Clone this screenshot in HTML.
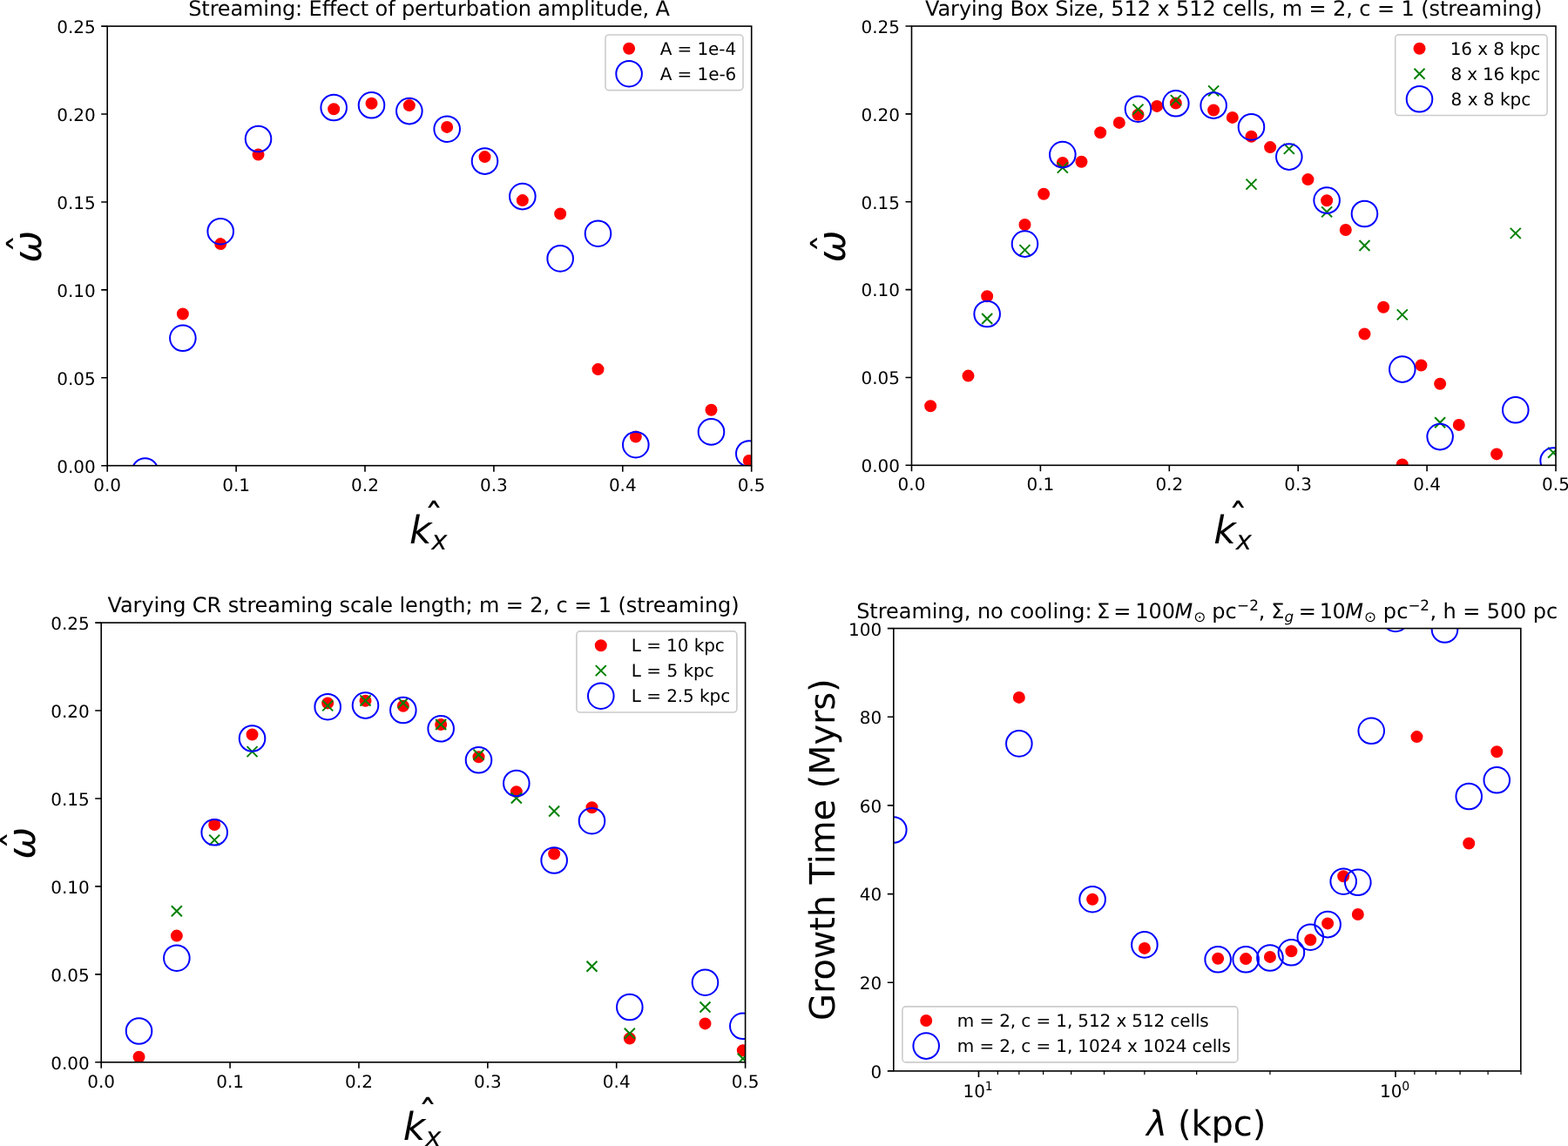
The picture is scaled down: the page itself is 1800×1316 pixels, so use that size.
<!DOCTYPE html>
<html><head><meta charset="utf-8"><title>Streaming instability growth rates</title>
<style>
html,body{margin:0;padding:0;background:#fff;}
svg{display:block;}
text{font-family:'DejaVu Sans', 'Liberation Sans', sans-serif;fill:#000;text-rendering:geometricPrecision;}
</style></head>
<body>
<svg width="1800" height="1316" viewBox="0 0 1800 1316">
<rect width="1800" height="1316" fill="#fff"/>
<defs>
<clipPath id="cTL"><rect x="123.2" y="30.1" width="739.5" height="504.6"/></clipPath>
<clipPath id="cTR"><rect x="1046.5" y="30" width="739.5" height="504.3"/></clipPath>
<clipPath id="cBL"><rect x="116.2" y="715.1" width="739.4" height="504.7"/></clipPath>
<clipPath id="cBR"><rect x="1025.8" y="721.6" width="720" height="508.3"/></clipPath>
</defs>
<g clip-path="url(#cTL)">
<circle cx="209.86" cy="360.5" r="6.0" fill="#ff0000" stroke="#ff0000" stroke-width="2"/>
<circle cx="253.19" cy="280.1" r="6.0" fill="#ff0000" stroke="#ff0000" stroke-width="2"/>
<circle cx="296.52" cy="177.6" r="6.0" fill="#ff0000" stroke="#ff0000" stroke-width="2"/>
<circle cx="383.18" cy="125.2" r="6.0" fill="#ff0000" stroke="#ff0000" stroke-width="2"/>
<circle cx="426.51" cy="118.8" r="6.0" fill="#ff0000" stroke="#ff0000" stroke-width="2"/>
<circle cx="469.84" cy="121.1" r="6.0" fill="#ff0000" stroke="#ff0000" stroke-width="2"/>
<circle cx="513.17" cy="145.9" r="6.0" fill="#ff0000" stroke="#ff0000" stroke-width="2"/>
<circle cx="556.5" cy="180.1" r="6.0" fill="#ff0000" stroke="#ff0000" stroke-width="2"/>
<circle cx="599.83" cy="230.1" r="6.0" fill="#ff0000" stroke="#ff0000" stroke-width="2"/>
<circle cx="643.16" cy="245.5" r="6.0" fill="#ff0000" stroke="#ff0000" stroke-width="2"/>
<circle cx="686.49" cy="424.1" r="6.0" fill="#ff0000" stroke="#ff0000" stroke-width="2"/>
<circle cx="729.82" cy="501.6" r="6.0" fill="#ff0000" stroke="#ff0000" stroke-width="2"/>
<circle cx="816.48" cy="470.8" r="6.0" fill="#ff0000" stroke="#ff0000" stroke-width="2"/>
<circle cx="859.81" cy="529" r="6.0" fill="#ff0000" stroke="#ff0000" stroke-width="2"/>
<circle cx="166.53" cy="541" r="14.8" fill="none" stroke="#0000ff" stroke-width="2"/>
<circle cx="209.86" cy="388.3" r="14.8" fill="none" stroke="#0000ff" stroke-width="2"/>
<circle cx="253.19" cy="265.7" r="14.8" fill="none" stroke="#0000ff" stroke-width="2"/>
<circle cx="296.52" cy="159.5" r="14.8" fill="none" stroke="#0000ff" stroke-width="2"/>
<circle cx="383.18" cy="123.5" r="14.8" fill="none" stroke="#0000ff" stroke-width="2"/>
<circle cx="426.51" cy="120.8" r="14.8" fill="none" stroke="#0000ff" stroke-width="2"/>
<circle cx="469.84" cy="127.6" r="14.8" fill="none" stroke="#0000ff" stroke-width="2"/>
<circle cx="513.17" cy="148.2" r="14.8" fill="none" stroke="#0000ff" stroke-width="2"/>
<circle cx="556.5" cy="185.1" r="14.8" fill="none" stroke="#0000ff" stroke-width="2"/>
<circle cx="599.83" cy="225.6" r="14.8" fill="none" stroke="#0000ff" stroke-width="2"/>
<circle cx="643.16" cy="296.9" r="14.8" fill="none" stroke="#0000ff" stroke-width="2"/>
<circle cx="686.49" cy="268.2" r="14.8" fill="none" stroke="#0000ff" stroke-width="2"/>
<circle cx="729.82" cy="510.7" r="14.8" fill="none" stroke="#0000ff" stroke-width="2"/>
<circle cx="816.48" cy="495.9" r="14.8" fill="none" stroke="#0000ff" stroke-width="2"/>
<circle cx="859.81" cy="521" r="14.8" fill="none" stroke="#0000ff" stroke-width="2"/>
</g>
<g clip-path="url(#cTR)">
<circle cx="1068.16" cy="466.3" r="6.0" fill="#ff0000" stroke="#ff0000" stroke-width="2"/>
<circle cx="1111.49" cy="431.6" r="6.0" fill="#ff0000" stroke="#ff0000" stroke-width="2"/>
<circle cx="1133.16" cy="340.2" r="6.0" fill="#ff0000" stroke="#ff0000" stroke-width="2"/>
<circle cx="1176.49" cy="258" r="6.0" fill="#ff0000" stroke="#ff0000" stroke-width="2"/>
<circle cx="1198.15" cy="222.7" r="6.0" fill="#ff0000" stroke="#ff0000" stroke-width="2"/>
<circle cx="1219.82" cy="186.9" r="6.0" fill="#ff0000" stroke="#ff0000" stroke-width="2"/>
<circle cx="1241.48" cy="185.8" r="6.0" fill="#ff0000" stroke="#ff0000" stroke-width="2"/>
<circle cx="1263.15" cy="152.3" r="6.0" fill="#ff0000" stroke="#ff0000" stroke-width="2"/>
<circle cx="1284.82" cy="140.9" r="6.0" fill="#ff0000" stroke="#ff0000" stroke-width="2"/>
<circle cx="1306.48" cy="131.7" r="6.0" fill="#ff0000" stroke="#ff0000" stroke-width="2"/>
<circle cx="1328.14" cy="121.9" r="6.0" fill="#ff0000" stroke="#ff0000" stroke-width="2"/>
<circle cx="1349.81" cy="118.5" r="6.0" fill="#ff0000" stroke="#ff0000" stroke-width="2"/>
<circle cx="1393.14" cy="126.5" r="6.0" fill="#ff0000" stroke="#ff0000" stroke-width="2"/>
<circle cx="1414.81" cy="134.9" r="6.0" fill="#ff0000" stroke="#ff0000" stroke-width="2"/>
<circle cx="1436.47" cy="156.8" r="6.0" fill="#ff0000" stroke="#ff0000" stroke-width="2"/>
<circle cx="1458.13" cy="169.1" r="6.0" fill="#ff0000" stroke="#ff0000" stroke-width="2"/>
<circle cx="1501.46" cy="206.1" r="6.0" fill="#ff0000" stroke="#ff0000" stroke-width="2"/>
<circle cx="1523.13" cy="230.2" r="6.0" fill="#ff0000" stroke="#ff0000" stroke-width="2"/>
<circle cx="1544.8" cy="264" r="6.0" fill="#ff0000" stroke="#ff0000" stroke-width="2"/>
<circle cx="1566.46" cy="383.5" r="6.0" fill="#ff0000" stroke="#ff0000" stroke-width="2"/>
<circle cx="1588.12" cy="352.8" r="6.0" fill="#ff0000" stroke="#ff0000" stroke-width="2"/>
<circle cx="1609.79" cy="533.5" r="6.0" fill="#ff0000" stroke="#ff0000" stroke-width="2"/>
<circle cx="1631.45" cy="419.5" r="6.0" fill="#ff0000" stroke="#ff0000" stroke-width="2"/>
<circle cx="1653.12" cy="440.7" r="6.0" fill="#ff0000" stroke="#ff0000" stroke-width="2"/>
<circle cx="1674.78" cy="487.9" r="6.0" fill="#ff0000" stroke="#ff0000" stroke-width="2"/>
<circle cx="1718.12" cy="521.4" r="6.0" fill="#ff0000" stroke="#ff0000" stroke-width="2"/>
<path d="M1127.16 360L1139.16 372M1127.16 372L1139.16 360" stroke="#008000" stroke-width="2" fill="none"/>
<path d="M1170.49 281.1L1182.49 293.1M1170.49 293.1L1182.49 281.1" stroke="#008000" stroke-width="2" fill="none"/>
<path d="M1213.82 186.6L1225.82 198.6M1213.82 198.6L1225.82 186.6" stroke="#008000" stroke-width="2" fill="none"/>
<path d="M1300.48 119.6L1312.48 131.6M1300.48 131.6L1312.48 119.6" stroke="#008000" stroke-width="2" fill="none"/>
<path d="M1343.81 109.1L1355.81 121.1M1343.81 121.1L1355.81 109.1" stroke="#008000" stroke-width="2" fill="none"/>
<path d="M1387.14 98.4L1399.14 110.4M1387.14 110.4L1399.14 98.4" stroke="#008000" stroke-width="2" fill="none"/>
<path d="M1430.47 205.6L1442.47 217.6M1430.47 217.6L1442.47 205.6" stroke="#008000" stroke-width="2" fill="none"/>
<path d="M1473.8 164.9L1485.8 176.9M1473.8 176.9L1485.8 164.9" stroke="#008000" stroke-width="2" fill="none"/>
<path d="M1517.13 237.4L1529.13 249.4M1517.13 249.4L1529.13 237.4" stroke="#008000" stroke-width="2" fill="none"/>
<path d="M1560.46 276L1572.46 288M1560.46 288L1572.46 276" stroke="#008000" stroke-width="2" fill="none"/>
<path d="M1603.79 355.4L1615.79 367.4M1603.79 367.4L1615.79 355.4" stroke="#008000" stroke-width="2" fill="none"/>
<path d="M1647.12 479.2L1659.12 491.2M1647.12 491.2L1659.12 479.2" stroke="#008000" stroke-width="2" fill="none"/>
<path d="M1733.78 261.9L1745.78 273.9M1733.78 273.9L1745.78 261.9" stroke="#008000" stroke-width="2" fill="none"/>
<path d="M1777.11 513.8L1789.11 525.8M1777.11 525.8L1789.11 513.8" stroke="#008000" stroke-width="2" fill="none"/>
<circle cx="1133.16" cy="360.5" r="14.8" fill="none" stroke="#0000ff" stroke-width="2"/>
<circle cx="1176.49" cy="280.1" r="14.8" fill="none" stroke="#0000ff" stroke-width="2"/>
<circle cx="1219.82" cy="177.6" r="14.8" fill="none" stroke="#0000ff" stroke-width="2"/>
<circle cx="1306.48" cy="125.2" r="14.8" fill="none" stroke="#0000ff" stroke-width="2"/>
<circle cx="1349.81" cy="118.8" r="14.8" fill="none" stroke="#0000ff" stroke-width="2"/>
<circle cx="1393.14" cy="121.1" r="14.8" fill="none" stroke="#0000ff" stroke-width="2"/>
<circle cx="1436.47" cy="145.9" r="14.8" fill="none" stroke="#0000ff" stroke-width="2"/>
<circle cx="1479.8" cy="180.1" r="14.8" fill="none" stroke="#0000ff" stroke-width="2"/>
<circle cx="1523.13" cy="230.1" r="14.8" fill="none" stroke="#0000ff" stroke-width="2"/>
<circle cx="1566.46" cy="245.5" r="14.8" fill="none" stroke="#0000ff" stroke-width="2"/>
<circle cx="1609.79" cy="424.1" r="14.8" fill="none" stroke="#0000ff" stroke-width="2"/>
<circle cx="1653.12" cy="501.6" r="14.8" fill="none" stroke="#0000ff" stroke-width="2"/>
<circle cx="1739.78" cy="470.8" r="14.8" fill="none" stroke="#0000ff" stroke-width="2"/>
<circle cx="1783.11" cy="529" r="14.8" fill="none" stroke="#0000ff" stroke-width="2"/>
</g>
<g clip-path="url(#cBL)">
<circle cx="159.53" cy="1213.7" r="6.0" fill="#ff0000" stroke="#ff0000" stroke-width="2"/>
<circle cx="202.86" cy="1074.6" r="6.0" fill="#ff0000" stroke="#ff0000" stroke-width="2"/>
<circle cx="246.19" cy="947" r="6.0" fill="#ff0000" stroke="#ff0000" stroke-width="2"/>
<circle cx="289.52" cy="843.5" r="6.0" fill="#ff0000" stroke="#ff0000" stroke-width="2"/>
<circle cx="376.18" cy="807.4" r="6.0" fill="#ff0000" stroke="#ff0000" stroke-width="2"/>
<circle cx="419.51" cy="804.8" r="6.0" fill="#ff0000" stroke="#ff0000" stroke-width="2"/>
<circle cx="462.84" cy="810.7" r="6.0" fill="#ff0000" stroke="#ff0000" stroke-width="2"/>
<circle cx="506.17" cy="832" r="6.0" fill="#ff0000" stroke="#ff0000" stroke-width="2"/>
<circle cx="549.5" cy="869.3" r="6.0" fill="#ff0000" stroke="#ff0000" stroke-width="2"/>
<circle cx="592.83" cy="909.3" r="6.0" fill="#ff0000" stroke="#ff0000" stroke-width="2"/>
<circle cx="636.16" cy="980.5" r="6.0" fill="#ff0000" stroke="#ff0000" stroke-width="2"/>
<circle cx="679.49" cy="927.2" r="6.0" fill="#ff0000" stroke="#ff0000" stroke-width="2"/>
<circle cx="722.82" cy="1192.5" r="6.0" fill="#ff0000" stroke="#ff0000" stroke-width="2"/>
<circle cx="809.48" cy="1175.4" r="6.0" fill="#ff0000" stroke="#ff0000" stroke-width="2"/>
<circle cx="852.81" cy="1206.2" r="6.0" fill="#ff0000" stroke="#ff0000" stroke-width="2"/>
<path d="M196.86 1040.2L208.86 1052.2M196.86 1052.2L208.86 1040.2" stroke="#008000" stroke-width="2" fill="none"/>
<path d="M240.19 958.6L252.19 970.6M240.19 970.6L252.19 958.6" stroke="#008000" stroke-width="2" fill="none"/>
<path d="M283.52 857.1L295.52 869.1M283.52 869.1L295.52 857.1" stroke="#008000" stroke-width="2" fill="none"/>
<path d="M370.18 804.4L382.18 816.4M370.18 816.4L382.18 804.4" stroke="#008000" stroke-width="2" fill="none"/>
<path d="M413.51 798.5L425.51 810.5M413.51 810.5L425.51 798.5" stroke="#008000" stroke-width="2" fill="none"/>
<path d="M456.84 801.2L468.84 813.2M456.84 813.2L468.84 801.2" stroke="#008000" stroke-width="2" fill="none"/>
<path d="M500.17 826L512.17 838M500.17 838L512.17 826" stroke="#008000" stroke-width="2" fill="none"/>
<path d="M543.5 860.7L555.5 872.7M543.5 872.7L555.5 860.7" stroke="#008000" stroke-width="2" fill="none"/>
<path d="M586.83 910.5L598.83 922.5M586.83 922.5L598.83 910.5" stroke="#008000" stroke-width="2" fill="none"/>
<path d="M630.16 925.5L642.16 937.5M630.16 937.5L642.16 925.5" stroke="#008000" stroke-width="2" fill="none"/>
<path d="M673.49 1103.7L685.49 1115.7M673.49 1115.7L685.49 1103.7" stroke="#008000" stroke-width="2" fill="none"/>
<path d="M716.82 1180.8L728.82 1192.8M716.82 1192.8L728.82 1180.8" stroke="#008000" stroke-width="2" fill="none"/>
<path d="M803.48 1150.5L815.48 1162.5M803.48 1162.5L815.48 1150.5" stroke="#008000" stroke-width="2" fill="none"/>
<path d="M846.81 1209.7L858.81 1221.7M846.81 1221.7L858.81 1209.7" stroke="#008000" stroke-width="2" fill="none"/>
<circle cx="159.53" cy="1184" r="14.8" fill="none" stroke="#0000ff" stroke-width="2"/>
<circle cx="202.86" cy="1100.2" r="14.8" fill="none" stroke="#0000ff" stroke-width="2"/>
<circle cx="246.19" cy="955.8" r="14.8" fill="none" stroke="#0000ff" stroke-width="2"/>
<circle cx="289.52" cy="848" r="14.8" fill="none" stroke="#0000ff" stroke-width="2"/>
<circle cx="376.18" cy="811.7" r="14.8" fill="none" stroke="#0000ff" stroke-width="2"/>
<circle cx="419.51" cy="810.1" r="14.8" fill="none" stroke="#0000ff" stroke-width="2"/>
<circle cx="462.84" cy="815.5" r="14.8" fill="none" stroke="#0000ff" stroke-width="2"/>
<circle cx="506.17" cy="836.8" r="14.8" fill="none" stroke="#0000ff" stroke-width="2"/>
<circle cx="549.5" cy="872.8" r="14.8" fill="none" stroke="#0000ff" stroke-width="2"/>
<circle cx="592.83" cy="899.5" r="14.8" fill="none" stroke="#0000ff" stroke-width="2"/>
<circle cx="636.16" cy="988" r="14.8" fill="none" stroke="#0000ff" stroke-width="2"/>
<circle cx="679.49" cy="942.7" r="14.8" fill="none" stroke="#0000ff" stroke-width="2"/>
<circle cx="722.82" cy="1156.5" r="14.8" fill="none" stroke="#0000ff" stroke-width="2"/>
<circle cx="809.48" cy="1128.2" r="14.8" fill="none" stroke="#0000ff" stroke-width="2"/>
<circle cx="852.81" cy="1178.3" r="14.8" fill="none" stroke="#0000ff" stroke-width="2"/>
</g>
<g clip-path="url(#cBR)">
<circle cx="1169.84" cy="800.9" r="6.0" fill="#ff0000" stroke="#ff0000" stroke-width="2"/>
<circle cx="1254.1" cy="1032.7" r="6.0" fill="#ff0000" stroke="#ff0000" stroke-width="2"/>
<circle cx="1313.89" cy="1088.9" r="6.0" fill="#ff0000" stroke="#ff0000" stroke-width="2"/>
<circle cx="1398.15" cy="1100.7" r="6.0" fill="#ff0000" stroke="#ff0000" stroke-width="2"/>
<circle cx="1430.18" cy="1101.1" r="6.0" fill="#ff0000" stroke="#ff0000" stroke-width="2"/>
<circle cx="1457.93" cy="1098.9" r="6.0" fill="#ff0000" stroke="#ff0000" stroke-width="2"/>
<circle cx="1482.41" cy="1092.2" r="6.0" fill="#ff0000" stroke="#ff0000" stroke-width="2"/>
<circle cx="1504.3" cy="1079.3" r="6.0" fill="#ff0000" stroke="#ff0000" stroke-width="2"/>
<circle cx="1524.11" cy="1060.4" r="6.0" fill="#ff0000" stroke="#ff0000" stroke-width="2"/>
<circle cx="1542.19" cy="1006.2" r="6.0" fill="#ff0000" stroke="#ff0000" stroke-width="2"/>
<circle cx="1558.82" cy="1050" r="6.0" fill="#ff0000" stroke="#ff0000" stroke-width="2"/>
<circle cx="1626.45" cy="846.1" r="6.0" fill="#ff0000" stroke="#ff0000" stroke-width="2"/>
<circle cx="1686.23" cy="968.5" r="6.0" fill="#ff0000" stroke="#ff0000" stroke-width="2"/>
<circle cx="1718.27" cy="863.2" r="6.0" fill="#ff0000" stroke="#ff0000" stroke-width="2"/>
<circle cx="1025.8" cy="953" r="14.8" fill="none" stroke="#0000ff" stroke-width="2"/>
<circle cx="1169.84" cy="853.9" r="14.8" fill="none" stroke="#0000ff" stroke-width="2"/>
<circle cx="1254.1" cy="1032.7" r="14.8" fill="none" stroke="#0000ff" stroke-width="2"/>
<circle cx="1313.89" cy="1084.9" r="14.8" fill="none" stroke="#0000ff" stroke-width="2"/>
<circle cx="1398.15" cy="1101.8" r="14.8" fill="none" stroke="#0000ff" stroke-width="2"/>
<circle cx="1430.18" cy="1101.8" r="14.8" fill="none" stroke="#0000ff" stroke-width="2"/>
<circle cx="1457.93" cy="1100" r="14.8" fill="none" stroke="#0000ff" stroke-width="2"/>
<circle cx="1482.41" cy="1093.8" r="14.8" fill="none" stroke="#0000ff" stroke-width="2"/>
<circle cx="1504.3" cy="1076.2" r="14.8" fill="none" stroke="#0000ff" stroke-width="2"/>
<circle cx="1524.11" cy="1061.6" r="14.8" fill="none" stroke="#0000ff" stroke-width="2"/>
<circle cx="1542.19" cy="1012.2" r="14.8" fill="none" stroke="#0000ff" stroke-width="2"/>
<circle cx="1558.82" cy="1013.3" r="14.8" fill="none" stroke="#0000ff" stroke-width="2"/>
<circle cx="1574.22" cy="839.3" r="14.8" fill="none" stroke="#0000ff" stroke-width="2"/>
<circle cx="1601.97" cy="710.4" r="14.8" fill="none" stroke="#0000ff" stroke-width="2"/>
<circle cx="1658.48" cy="723" r="14.8" fill="none" stroke="#0000ff" stroke-width="2"/>
<circle cx="1686.23" cy="914.5" r="14.8" fill="none" stroke="#0000ff" stroke-width="2"/>
<circle cx="1718.27" cy="895.8" r="14.8" fill="none" stroke="#0000ff" stroke-width="2"/>
</g>
<rect x="123.2" y="30.1" width="739.5" height="504.6" fill="none" stroke="#000" stroke-width="1.6"/>
<rect x="1046.5" y="30" width="739.5" height="504.3" fill="none" stroke="#000" stroke-width="1.6"/>
<rect x="116.2" y="715.1" width="739.4" height="504.7" fill="none" stroke="#000" stroke-width="1.6"/>
<rect x="1025.8" y="721.6" width="720" height="508.3" fill="none" stroke="#000" stroke-width="1.6"/>
<path d="M123.2 534.7v7M123.2 534.7h-7M271.1 534.7v7M123.2 433.78h-7M419 534.7v7M123.2 332.86h-7M566.9 534.7v7M123.2 231.94h-7M714.8 534.7v7M123.2 131.02h-7M862.7 534.7v7M123.2 30.1h-7" stroke="#000" stroke-width="1.6"/>
<text x="123.2" y="563.8" font-size="20" text-anchor="middle">0.0</text>
<text x="109.7" y="542.6" font-size="20" text-anchor="end">0.00</text>
<text x="271.1" y="563.8" font-size="20" text-anchor="middle">0.1</text>
<text x="109.7" y="441.68" font-size="20" text-anchor="end">0.05</text>
<text x="419" y="563.8" font-size="20" text-anchor="middle">0.2</text>
<text x="109.7" y="340.76" font-size="20" text-anchor="end">0.10</text>
<text x="566.9" y="563.8" font-size="20" text-anchor="middle">0.3</text>
<text x="109.7" y="239.84" font-size="20" text-anchor="end">0.15</text>
<text x="714.8" y="563.8" font-size="20" text-anchor="middle">0.4</text>
<text x="109.7" y="138.92" font-size="20" text-anchor="end">0.20</text>
<text x="862.7" y="563.8" font-size="20" text-anchor="middle">0.5</text>
<text x="109.7" y="38" font-size="20" text-anchor="end">0.25</text>
<path d="M1046.5 534.3v7M1046.5 534.3h-7M1194.4 534.3v7M1046.5 433.44h-7M1342.3 534.3v7M1046.5 332.58h-7M1490.2 534.3v7M1046.5 231.72h-7M1638.1 534.3v7M1046.5 130.86h-7M1786 534.3v7M1046.5 30h-7" stroke="#000" stroke-width="1.6"/>
<text x="1046.5" y="563.4" font-size="20" text-anchor="middle">0.0</text>
<text x="1033" y="542.2" font-size="20" text-anchor="end">0.00</text>
<text x="1194.4" y="563.4" font-size="20" text-anchor="middle">0.1</text>
<text x="1033" y="441.34" font-size="20" text-anchor="end">0.05</text>
<text x="1342.3" y="563.4" font-size="20" text-anchor="middle">0.2</text>
<text x="1033" y="340.48" font-size="20" text-anchor="end">0.10</text>
<text x="1490.2" y="563.4" font-size="20" text-anchor="middle">0.3</text>
<text x="1033" y="239.62" font-size="20" text-anchor="end">0.15</text>
<text x="1638.1" y="563.4" font-size="20" text-anchor="middle">0.4</text>
<text x="1033" y="138.76" font-size="20" text-anchor="end">0.20</text>
<text x="1786" y="563.4" font-size="20" text-anchor="middle">0.5</text>
<text x="1033" y="37.9" font-size="20" text-anchor="end">0.25</text>
<path d="M116.2 1219.8v7M116.2 1219.8h-7M264.08 1219.8v7M116.2 1118.86h-7M411.96 1219.8v7M116.2 1017.92h-7M559.84 1219.8v7M116.2 916.98h-7M707.72 1219.8v7M116.2 816.04h-7M855.6 1219.8v7M116.2 715.1h-7" stroke="#000" stroke-width="1.6"/>
<text x="116.2" y="1248.9" font-size="20" text-anchor="middle">0.0</text>
<text x="102.7" y="1227.7" font-size="20" text-anchor="end">0.00</text>
<text x="264.08" y="1248.9" font-size="20" text-anchor="middle">0.1</text>
<text x="102.7" y="1126.76" font-size="20" text-anchor="end">0.05</text>
<text x="411.96" y="1248.9" font-size="20" text-anchor="middle">0.2</text>
<text x="102.7" y="1025.82" font-size="20" text-anchor="end">0.10</text>
<text x="559.84" y="1248.9" font-size="20" text-anchor="middle">0.3</text>
<text x="102.7" y="924.88" font-size="20" text-anchor="end">0.15</text>
<text x="707.72" y="1248.9" font-size="20" text-anchor="middle">0.4</text>
<text x="102.7" y="823.94" font-size="20" text-anchor="end">0.20</text>
<text x="855.6" y="1248.9" font-size="20" text-anchor="middle">0.5</text>
<text x="102.7" y="723" font-size="20" text-anchor="end">0.25</text>
<path d="M1123.47 1229.9v7M1601.97 1229.9v7M1025.8 1229.9h-7M1025.8 1128.24h-7M1025.8 1026.58h-7M1025.8 924.92h-7M1025.8 823.26h-7M1025.8 721.6h-7" stroke="#000" stroke-width="1.6"/>
<path d="M1145.37 1229.9v4M1169.84 1229.9v4M1197.59 1229.9v4M1229.63 1229.9v4M1267.51 1229.9v4M1313.89 1229.9v4M1373.67 1229.9v4M1457.93 1229.9v4M1623.87 1229.9v4M1648.34 1229.9v4M1676.09 1229.9v4M1708.13 1229.9v4M1746.01 1229.9v4" stroke="#000" stroke-width="1.2"/>
<text x="1012.3" y="1237.8" font-size="20" text-anchor="end">0</text>
<text x="1012.3" y="1136.14" font-size="20" text-anchor="end">20</text>
<text x="1012.3" y="1034.48" font-size="20" text-anchor="end">40</text>
<text x="1012.3" y="932.82" font-size="20" text-anchor="end">60</text>
<text x="1012.3" y="831.16" font-size="20" text-anchor="end">80</text>
<text x="1012.3" y="729.5" font-size="20" text-anchor="end">100</text>
<text x="1105.62" y="1259.8" font-size="20">10</text>
<text x="1130.63" y="1251.9" font-size="14">1</text>
<text x="1584.12" y="1259.8" font-size="20">10</text>
<text x="1609.13" y="1251.9" font-size="14">0</text>
<text x="216.24" y="17.9" font-size="24" textLength="552.79" lengthAdjust="spacing">Streaming: Effect of perturbation amplitude, A</text>
<text x="1062.02" y="18" font-size="24" textLength="708.35" lengthAdjust="spacing">Varying Box Size, 512 x 512 cells, m = 2, c = 1 (streaming)</text>
<text x="123.52" y="703.3" font-size="24" textLength="725.01" lengthAdjust="spacing">Varying CR streaming scale length; m = 2, c = 1 (streaming)</text>
<text x="983.14" y="710" font-size="24" textLength="270.35" lengthAdjust="spacing">Streaming, no cooling:</text>
<text x="1258.96" y="710" font-size="24">Σ</text>
<text x="1278.28" y="710" font-size="24">=</text>
<text x="1303.16" y="710" font-size="24" textLength="45.93" lengthAdjust="spacing">100</text>
<text x="1348.54" y="710" font-size="24" font-style="oblique">M</text>
<text x="1370.15" y="713.6" font-size="16.8">⊙</text>
<text x="1391.14" y="710" font-size="24" textLength="28.65" lengthAdjust="spacing">pc</text>
<text x="1419.94" y="700.5" font-size="16.8" textLength="25.07" lengthAdjust="spacing">−2</text>
<text x="1444.84" y="710" font-size="24">,</text>
<text x="1459.36" y="710" font-size="24">Σ</text>
<text x="1474.45" y="713.6" font-size="16.8" font-style="oblique">g</text>
<text x="1490.78" y="710" font-size="24">=</text>
<text x="1514.86" y="710" font-size="24" textLength="30" lengthAdjust="spacing">10</text>
<text x="1544.34" y="710" font-size="24" font-style="oblique">M</text>
<text x="1565.95" y="713.6" font-size="16.8">⊙</text>
<text x="1587.84" y="710" font-size="24" textLength="28.65" lengthAdjust="spacing">pc</text>
<text x="1616.54" y="700.5" font-size="16.8" textLength="24.37" lengthAdjust="spacing">−2</text>
<text x="1641.44" y="710" font-size="24" textLength="146.75" lengthAdjust="spacing">, h = 500 pc</text>
<text x="469.91" y="624" font-size="44" font-style="oblique">k</text>
<text x="487.05" y="610.3" font-size="44">ˆ</text>
<text x="495.35" y="630.9" font-size="30.8" font-style="oblique">x</text>
<text transform="translate(46.7 301.7) rotate(-90)" font-size="44" font-style="oblique">ω</text>
<text transform="translate(41.9 290.8) rotate(-90)" font-size="44">ˆ</text>
<text x="1393.21" y="624" font-size="44" font-style="oblique">k</text>
<text x="1410.35" y="610.3" font-size="44">ˆ</text>
<text x="1418.65" y="630.9" font-size="30.8" font-style="oblique">x</text>
<text transform="translate(970 301.45) rotate(-90)" font-size="44" font-style="oblique">ω</text>
<text transform="translate(965.2 290.55) rotate(-90)" font-size="44">ˆ</text>
<text x="462.86" y="1309.4" font-size="44" font-style="oblique">k</text>
<text x="480" y="1294.7" font-size="44">ˆ</text>
<text x="488.3" y="1316.3" font-size="30.8" font-style="oblique">x</text>
<text transform="translate(39.7 986.75) rotate(-90)" font-size="44" font-style="oblique">ω</text>
<text transform="translate(34.9 975.85) rotate(-90)" font-size="44">ˆ</text>
<text transform="translate(958.4 1171.9) rotate(-90)" font-size="40" textLength="392.5" lengthAdjust="spacing">Growth Time (Myrs)</text>
<text x="1316.3" y="1304" font-size="40" font-style="oblique">λ</text>
<text x="1352" y="1304" font-size="40" textLength="101.36" lengthAdjust="spacing">(kpc)</text>
<rect x="695" y="40" width="158" height="63.6" rx="4" ry="4" fill="#fff" fill-opacity="0.8" stroke="#cccccc" stroke-width="1.6"/>
<circle cx="722.1" cy="55.7" r="6.0" fill="#ff0000" stroke="#ff0000" stroke-width="2"/>
<text x="757.65" y="62.9" font-size="20" textLength="87.48" lengthAdjust="spacing">A = 1e-4</text>
<circle cx="722.1" cy="84.7" r="14.8" fill="none" stroke="#0000ff" stroke-width="2"/>
<text x="757.65" y="91.7" font-size="20" textLength="87.63" lengthAdjust="spacing">A = 1e-6</text>
<rect x="1601.7" y="39.9" width="174.4" height="92.6" rx="4" ry="4" fill="#fff" fill-opacity="0.8" stroke="#cccccc" stroke-width="1.6"/>
<circle cx="1629.5" cy="55.8" r="6.0" fill="#ff0000" stroke="#ff0000" stroke-width="2"/>
<text x="1664.7" y="62.7" font-size="20" textLength="103.46" lengthAdjust="spacing">16 x 8 kpc</text>
<path d="M1623.5 78.8L1635.5 90.8M1623.5 90.8L1635.5 78.8" stroke="#008000" stroke-width="2" fill="none"/>
<text x="1665.55" y="91.6" font-size="20" textLength="102.61" lengthAdjust="spacing">8 x 16 kpc</text>
<circle cx="1629.5" cy="113.8" r="14.8" fill="none" stroke="#0000ff" stroke-width="2"/>
<text x="1665.55" y="120.7" font-size="20">8 x 8 kpc</text>
<rect x="661.9" y="724.9" width="184" height="93.1" rx="4" ry="4" fill="#fff" fill-opacity="0.8" stroke="#cccccc" stroke-width="1.6"/>
<circle cx="689.8" cy="741.3" r="6.0" fill="#ff0000" stroke="#ff0000" stroke-width="2"/>
<text x="724.85" y="748" font-size="20" textLength="106.9" lengthAdjust="spacing">L = 10 kpc</text>
<path d="M683.8 764.1L695.8 776.1M683.8 776.1L695.8 764.1" stroke="#008000" stroke-width="2" fill="none"/>
<text x="724.85" y="777.3" font-size="20">L = 5 kpc</text>
<circle cx="689.8" cy="799.2" r="14.8" fill="none" stroke="#0000ff" stroke-width="2"/>
<text x="724.85" y="806.1" font-size="20" textLength="113.31" lengthAdjust="spacing">L = 2.5 kpc</text>
<rect x="1035.9" y="1155.9" width="385" height="64" rx="4" ry="4" fill="#fff" fill-opacity="0.8" stroke="#cccccc" stroke-width="1.6"/>
<circle cx="1063.2" cy="1172" r="6.0" fill="#ff0000" stroke="#ff0000" stroke-width="2"/>
<text x="1098.8" y="1179" font-size="20" textLength="288.95" lengthAdjust="spacing">m = 2, c = 1, 512 x 512 cells</text>
<circle cx="1063.2" cy="1201.1" r="14.8" fill="none" stroke="#0000ff" stroke-width="2"/>
<text x="1098.8" y="1208.1" font-size="20" textLength="314.15" lengthAdjust="spacing">m = 2, c = 1, 1024 x 1024 cells</text>
</svg>
</body></html>
